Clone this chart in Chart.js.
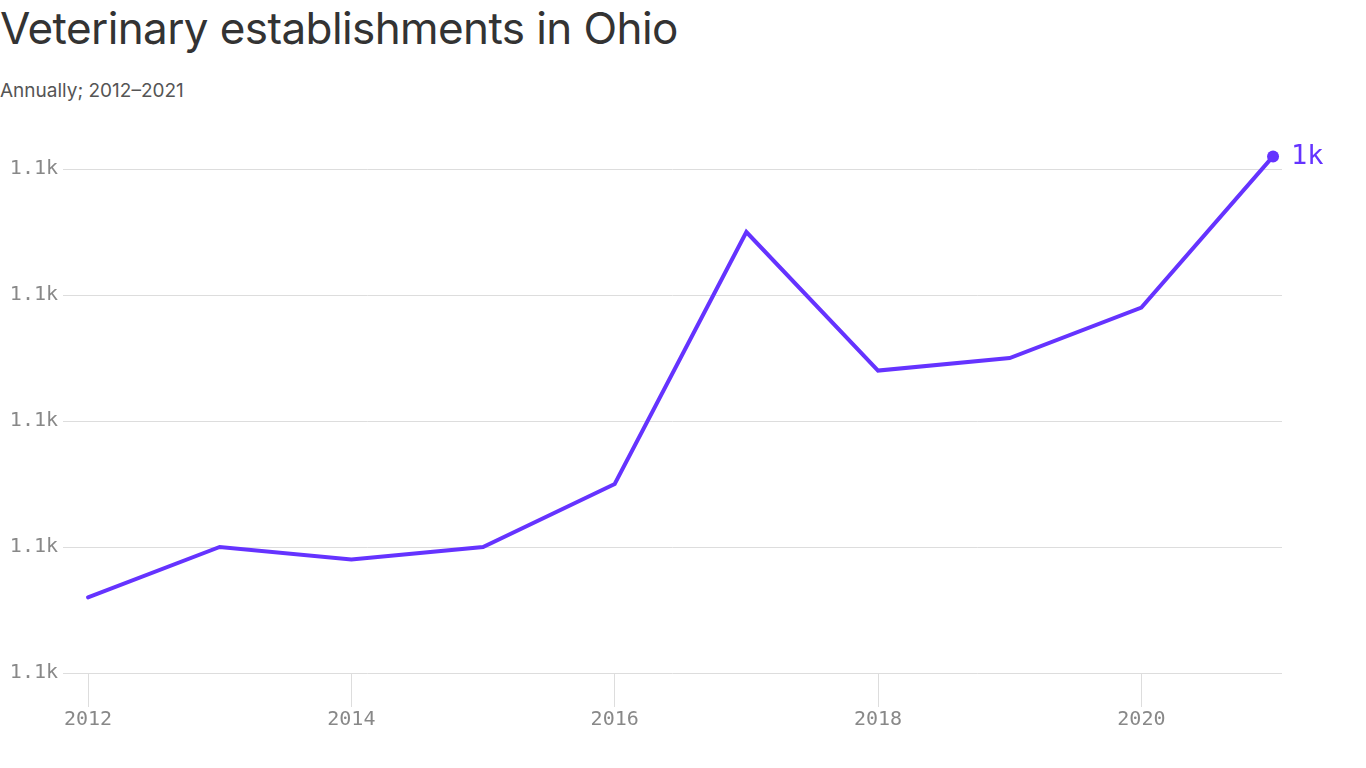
<!DOCTYPE html>
<html>
<head>
<meta charset="utf-8">
<script src="https://cdn.jsdelivr.net/npm/chart.js@4"></script>
<style>
  html, body { margin: 0; padding: 0; background: #fff; width: 1366px; height: 768px; overflow: hidden; }
  #title { position: absolute; left: 0; top: 1px; font-family: Inter, "Noto Sans", sans-serif; font-size: 44px; color: #333; letter-spacing: -0.6px; white-space: nowrap; }
  #subtitle { position: absolute; left: 0; top: 79px; font-family: Inter, "Noto Sans", sans-serif; font-size: 19px; color: #555; letter-spacing: 0px; white-space: nowrap; }
  #wrap { position: absolute; left: 0; top: 0; width: 1366px; height: 768px; }
</style>
</head>
<body>
<div id="title">Veterinary establishments in Ohio</div>
<div id="subtitle">Annually; 2012–2021</div>
<div id="wrap"><canvas id="c" width="1366" height="768"></canvas></div>
<script>
const years = [2012, 2013, 2014, 2015, 2016, 2017, 2018, 2019, 2020, 2021];
const establishments = [1106, 1110, 1109, 1110, 1115, 1135, 1124, 1125, 1129, 1141];
const xTickYears = [2012, 2014, 2016, 2018, 2020];
const yTickValues = [1100, 1110, 1120, 1130, 1140];
const yTickLabel = "1.1k";
const endLabel = "1k";

const purple = "#6533ff";
const mono = "'DejaVu Sans Mono', 'Liberation Mono', monospace";
const lastIndex = years.length - 1;

const endLabelPlugin = {
  id: "endLabel",
  afterDatasetsDraw(chart) {
    const meta = chart.getDatasetMeta(0);
    const pt = meta.data[lastIndex];
    const ctx = chart.ctx;
    ctx.save();
    ctx.fillStyle = purple;
    ctx.beginPath();
    ctx.arc(pt.x, pt.y, 6, 0, Math.PI * 2);
    ctx.fill();
    ctx.font = "27px " + mono;
    ctx.textBaseline = "middle";
    ctx.textAlign = "left";
    ctx.fillText(endLabel, pt.x + 18, pt.y + 1);
    ctx.restore();
  }
};

new Chart(document.getElementById("c"), {
  type: "line",
  data: {
    datasets: [{
      data: years.map((y, i) => ({ x: y, y: establishments[i] })),
      borderColor: purple,
      backgroundColor: purple,
      borderWidth: 4,
      tension: 0,
      pointRadius: 0,
      pointHoverRadius: 0,
      clip: false,
      borderCapStyle: "round",
      borderJoinStyle: "miter"
    }]
  },
  options: {
    responsive: false,
    animation: false,
    events: [],
    layout: { padding: { left: 0, right: 84, top: 169, bottom: 35 } },
    plugins: { legend: { display: false }, tooltip: { enabled: false }, title: { display: false } },
    scales: {
      x: {
        type: "linear",
        min: 2011.81,
        max: 2021.068,
        afterBuildTicks: (scale) => { scale.ticks = xTickYears.map(v => ({ value: v })); },
        afterFit: (scale) => { scale.height = 60; },
        grid: { drawOnChartArea: false, drawTicks: true, tickLength: 34, color: "#dddddd", lineWidth: 1 },
        border: { display: false },
        ticks: {
          padding: 1,
          color: "#888",
          font: { family: mono, size: 20 },
          callback: (v) => String(v),
          maxRotation: 0
        }
      },
      y: {
        min: 1100,
        max: 1140,
        afterBuildTicks: (scale) => { scale.ticks = yTickValues.map(v => ({ value: v })); },
        afterFit: (scale) => { scale.width = 63; },
        grid: { drawTicks: false, color: "#dddddd", lineWidth: 1 },
        border: { display: false },
        ticks: {
          padding: 5,
          color: "#888",
          font: { family: mono, size: 20 },
          callback: () => yTickLabel
        }
      }
    }
  },
  plugins: [endLabelPlugin]
});
</script>
</body>
</html>
